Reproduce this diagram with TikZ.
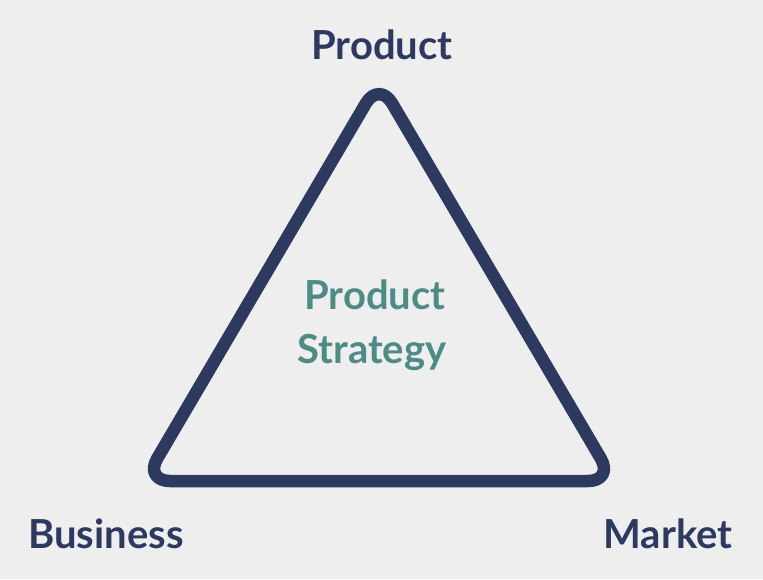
\documentclass[tikz,border=0pt]{standalone}
\usepackage{fontspec}
\setmainfont{Lato}
\definecolor{bgc}{HTML}{EEEEEE}
\definecolor{navy}{HTML}{2E3960}
\definecolor{tealc}{HTML}{4E8B87}
\begin{document}
\begin{tikzpicture}[x=1pt,y=-1pt,
  corner/.style={font=\fontsize{40}{48}\selectfont\bfseries, text=navy, anchor=base, inner sep=0pt},
  centre/.style={font=\fontsize{40}{54}\selectfont\bfseries, text=tealc, anchor=base, inner sep=0pt, align=center}]
\fill[bgc] (0,0) rectangle (763,579);
\useasboundingbox (0,0) rectangle (763,579);
\coordinate (apex) at (379,81);
\coordinate (bl) at (144,481);
\coordinate (br) at (614,481);
\draw[navy, line width=12.5pt, rounded corners=26pt, line join=round] (apex) -- (br) -- (bl) -- cycle;
\node[corner] (prod) at (382,59) {Product};
\node[corner] (bus) at (106,548) {Business};
\node[corner] (mkt) at (668,548) {Market};
\node[centre] (s1) at (375,309) {Product};
\node[centre] (s2) at (372,363) {Strategy};
\end{tikzpicture}
\end{document}
